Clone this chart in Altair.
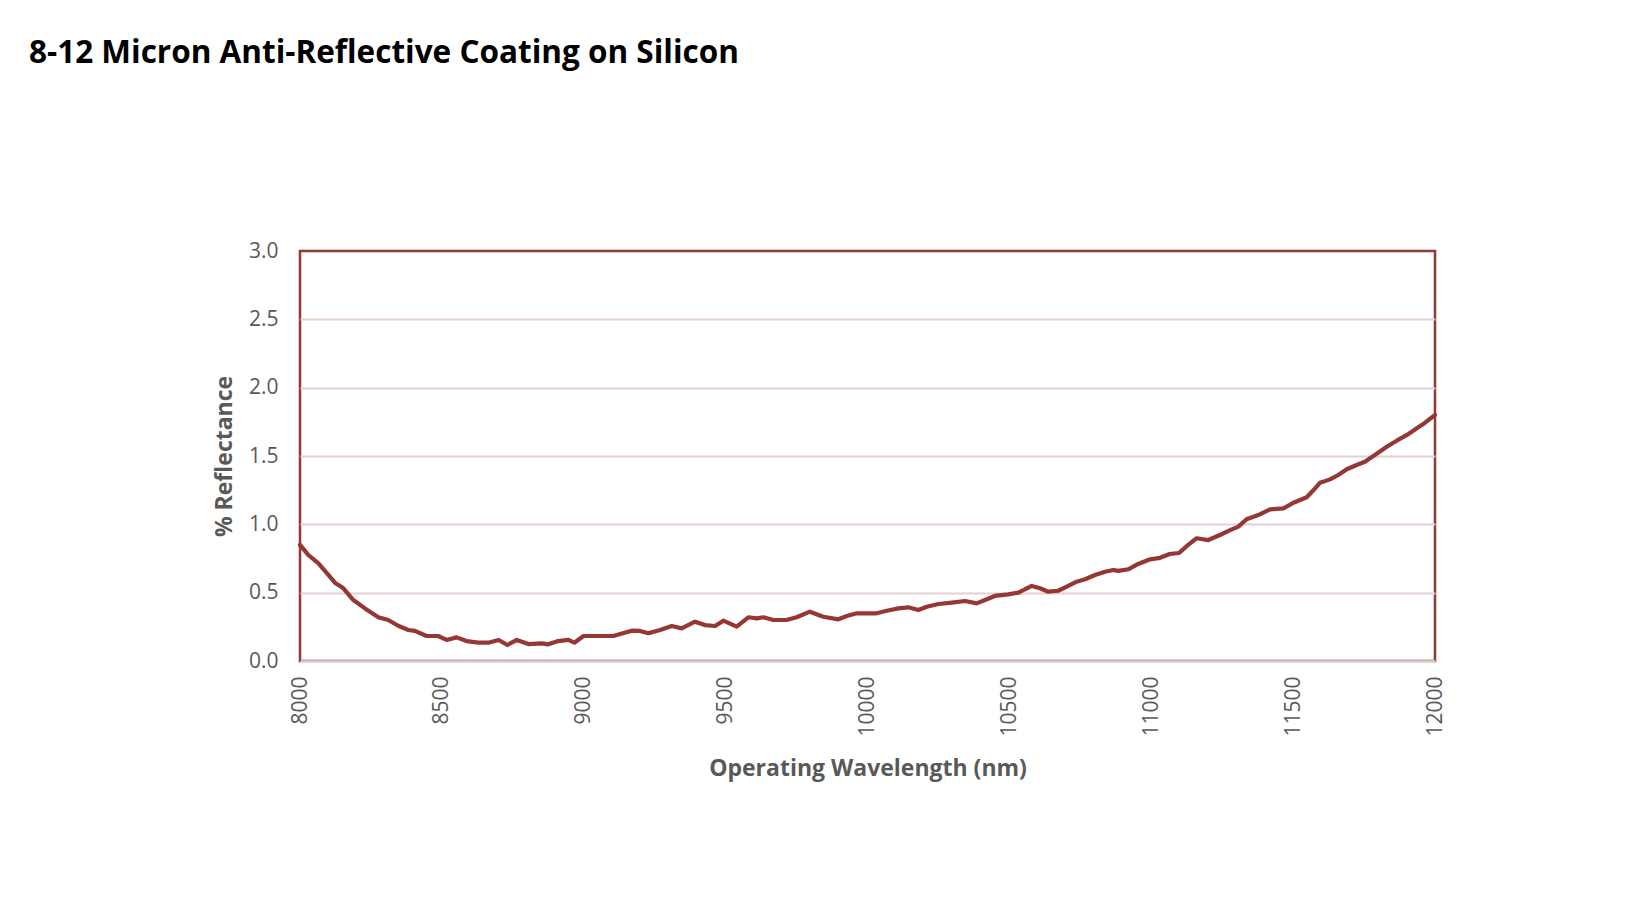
import altair as alt
import pandas as pd

wavelength = [8000, 8029, 8065, 8100, 8123, 8153, 8188, 8229, 8276, 8311, 8346, 8382, 8405,
              8446, 8487, 8517, 8552, 8587, 8628, 8664, 8700, 8731, 8764, 8805, 8852, 8875,
              8910, 8946, 8967, 8999, 9040, 9104, 9169, 9198, 9228, 9269, 9310, 9345, 9392,
              9427, 9463, 9492, 9539, 9580, 9610, 9633, 9668, 9715, 9750, 9797, 9844, 9897,
              9927, 9962, 10032, 10068, 10109, 10144, 10179, 10209, 10250, 10297, 10344,
              10385, 10414, 10449, 10496, 10532, 10555, 10579, 10608, 10637, 10672, 10702,
              10737, 10767, 10802, 10837, 10866, 10884, 10919, 10954, 10996, 11031, 11065,
              11098, 11130, 11160, 11201, 11242, 11278, 11307, 11336, 11377, 11419, 11466,
              11501, 11548, 11572, 11595, 11630, 11659, 11689, 11724, 11753, 11783, 11830,
              11865, 11901, 11936, 11965, 12000]
reflectance = [0.85, 0.776, 0.715, 0.63, 0.573, 0.532, 0.446, 0.385, 0.32, 0.30, 0.258, 0.227, 0.22,
               0.183, 0.183, 0.154, 0.173, 0.146, 0.134, 0.134, 0.154, 0.117, 0.154, 0.124, 0.129, 0.122,
               0.146, 0.154, 0.134, 0.183, 0.183, 0.183, 0.222, 0.22, 0.203, 0.227, 0.256, 0.239, 0.288,
               0.263, 0.256, 0.295, 0.251, 0.32, 0.312, 0.32, 0.30, 0.30, 0.32, 0.361, 0.324, 0.305,
               0.329, 0.349, 0.349, 0.368, 0.385, 0.393, 0.373, 0.397, 0.417, 0.427, 0.439,
               0.422, 0.446, 0.476, 0.488, 0.50, 0.525, 0.549, 0.532, 0.507, 0.514, 0.544,
               0.58, 0.598, 0.629, 0.653, 0.666, 0.659, 0.671, 0.71, 0.744, 0.755, 0.783,
               0.79, 0.85, 0.898, 0.885, 0.922, 0.958, 0.983, 1.037, 1.068, 1.11, 1.117,
               1.158, 1.198, 1.251, 1.305, 1.329, 1.361, 1.403, 1.434, 1.458, 1.50, 1.568,
               1.612, 1.654, 1.703, 1.744, 1.80]

x_ticks = [8000, 8500, 9000, 9500, 10000, 10500, 11000, 11500, 12000]
y_ticks = [0.0, 0.5, 1.0, 1.5, 2.0, 2.5, 3.0]

df = pd.DataFrame({"wavelength": wavelength, "reflectance": reflectance})

RED = "#953735"
FONT = "Open Sans"

chart = (
    alt.Chart(df)
    .mark_line(color=RED, strokeWidth=4.2, strokeJoin="round", strokeCap="round")
    .encode(
        x=alt.X(
            "wavelength:Q",
            scale=alt.Scale(domain=[8000, 12000], nice=False, zero=False),
            axis=alt.Axis(
                title="Operating Wavelength (nm)",
                values=x_ticks,
                format="d",
                labelAngle=-90,
                labelAlign="right",
                labelBaseline="middle",
                labelPadding=15,
                ticks=False,
                tickSize=0,
                grid=False,
                domainColor="#D9D9D9",
                domainWidth=2.5,
                labelFont=FONT,
                labelFontSize=21,
                labelColor="#595959",
                titleFont=FONT,
                titleFontSize=23,
                titleFontWeight="bold",
                titleColor="#595959",
                titlePadding=21,
                labelFlush=False,
                labelOverlap=False,
            ),
        ),
        y=alt.Y(
            "reflectance:Q",
            scale=alt.Scale(domain=[0, 3], nice=False),
            axis=alt.Axis(
                title="% Reflectance",
                values=y_ticks,
                format=".1f",
                ticks=False,
                tickSize=0,
                domain=False,
                labelPadding=22,
                grid=True,
                gridColor={"condition": {"test": "datum.value >= 3 || datum.value <= 0", "value": "transparent"}, "value": "#E6D0D2"},
                gridWidth=2,
                labelFont=FONT,
                labelFontSize=21,
                labelColor="#595959",
                titleFont=FONT,
                titleFontSize=23,
                titleFontWeight="bold",
                titleColor="#595959",
                titlePadding=12,
                labelFlush=False,
                labelOverlap=False,
            ),
        ),
    )
    .properties(
        width=1135,
        height=410,
        title=alt.TitleParams(
            "8-12 Micron Anti-Reflective Coating on Silicon",
            anchor="start",
            frame="group",
            dx=-271,
            offset=146,
            baseline="alphabetic",
            font=FONT,
            fontSize=31.5,
            fontWeight="bold",
            color="#000000",
        ),
        autosize=alt.AutoSizeParams(type="none"),
        padding={"left": 292, "top": 243, "right": 197, "bottom": 255},
    )
    .configure(background="white")
    .configure_view(stroke=RED, strokeWidth=2.5)
)

chart.save("out.html", embed_options={"renderer": "svg", "actions": False})
